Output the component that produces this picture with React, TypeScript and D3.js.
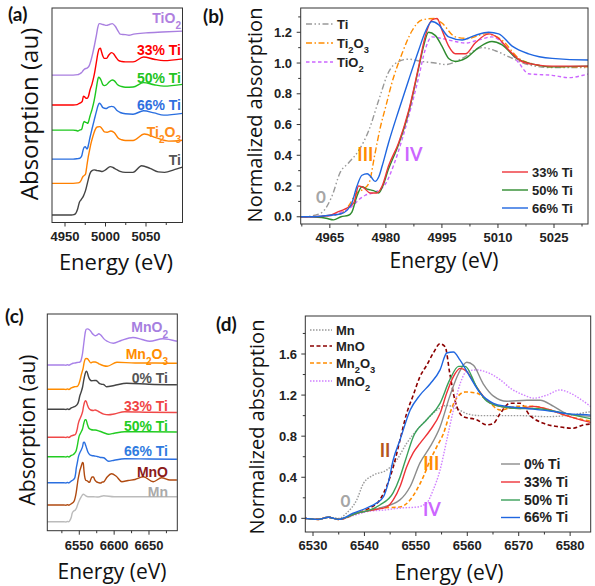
import React from 'react';
import * as d3 from 'd3';

type Pt = [number, number];

// ---- Ti K-edge spectra (energy eV, normalized absorption) ----
const tiMetal: Pt[] = [[4934,0],[4950,0],[4958,0],[4961,0.01],[4963,0.03],[4965.5,0.13],[4967.8,0.29],[4970,0.35],[4972.7,0.43],[4975.4,0.56],[4978.1,0.76],[4980.7,0.94],[4983.4,1.01],[4986,1.025],[4989.7,1.01],[4993.2,1.0],[4996,0.99],[5000.4,1.03],[5005.7,1.1],[5009.3,1.08],[5013,1.04],[5018,0.99],[5024.5,0.97],[5034,0.97],[5044.6,1.12],[5055,1.06],[5065,0.98],[5073,0.97],[5085,1.03],[5095,1.09]];
const ti2o3: Pt[] = [[4934,0],[4950,0],[4960,0],[4966,0.01],[4968,0.02],[4970,0.07],[4972,0.15],[4974,0.18],[4975.5,0.22],[4977,0.4],[4978.5,0.58],[4980,0.72],[4981.6,0.87],[4984.3,1.06],[4987,1.21],[4989.6,1.28],[4993,1.29],[4995,1.26],[4998.6,1.17],[5002,1.16],[5006.6,1.19],[5011,1.15],[5015.6,1.03],[5020,0.99],[5024.5,0.975],[5034,0.975],[5048,1.12],[5062,1.04],[5078,0.96],[5095,0.98]];
const tio2: Pt[] = [[4934,0],[4950,0],[4960,0],[4966,0.01],[4968,0.03],[4970,0.05],[4971.5,0.08],[4972.7,0.11],[4974.5,0.14],[4977.1,0.16],[4979.8,0.21],[4982,0.33],[4984.3,0.5],[4986.5,0.69],[4988.8,0.91],[4990.5,1.085],[4992.3,1.17],[4995,1.16],[4998.6,1.14],[5001.3,1.13],[5004.8,1.15],[5008.4,1.17],[5012,1.11],[5015.6,1.0],[5018.2,0.93],[5024.5,0.92],[5029,0.905],[5034.6,0.93],[5050,0.96],[5070,0.98],[5095,1.0]];
const ti33: Pt[] = [[4934,0],[4950,0],[4960,0],[4965,0.01],[4967,0.03],[4969,0.05],[4971.4,0.09],[4972.7,0.2],[4974,0.19],[4975.8,0.155],[4977.6,0.155],[4979,0.2],[4980.7,0.33],[4983.4,0.48],[4986.1,0.69],[4988.8,0.98],[4990.5,1.17],[4992.3,1.28],[4993.7,1.29],[4995,1.215],[4996.8,1.11],[4998.6,1.06],[5001.3,1.06],[5003.9,1.13],[5007.5,1.19],[5010.2,1.16],[5012.9,1.085],[5016.4,1.01],[5020,0.99],[5024.5,0.98],[5034,0.98],[5047,1.09],[5060,1.04],[5072,1.01],[5095,1.05]];
const ti50: Pt[] = [[4934,0],[4950,0],[4960,0],[4964,-0.01],[4966,-0.02],[4968,0],[4970,0.01],[4970.9,0.03],[4972.2,0.13],[4973.6,0.195],[4975,0.18],[4976.7,0.17],[4978.1,0.155],[4979,0.19],[4980.7,0.31],[4983.4,0.47],[4986.1,0.68],[4988.8,0.97],[4990,1.1],[4991.4,1.2],[4993.2,1.18],[4995,1.11],[4996.8,1.03],[4998.6,1.01],[5001.3,1.03],[5004.8,1.1],[5008.4,1.14],[5011,1.12],[5015,1.03],[5020,0.99],[5024.5,0.975],[5034,0.98],[5047,1.08],[5060,1.03],[5072,1.0],[5095,1.04]];
const ti66: Pt[] = [[4934,0],[4950,0],[4960,0],[4965,0.01],[4968,0.02],[4969.5,0.04],[4970.9,0.09],[4972.2,0.195],[4973.6,0.27],[4975,0.28],[4976,0.26],[4977.1,0.23],[4978.1,0.26],[4979,0.33],[4980.7,0.48],[4983.4,0.69],[4986.1,0.89],[4988.8,1.085],[4990.5,1.2],[4992.3,1.27],[4994.1,1.25],[4996.8,1.17],[5000.4,1.15],[5003.9,1.18],[5007.5,1.2],[5010.2,1.19],[5013.8,1.11],[5018.2,1.06],[5024.5,1.03],[5034,1.02],[5047,1.1],[5060,1.05],[5072,1.0],[5095,1.04]];

// ---- Mn K-edge spectra ----
const mnMetal: Pt[] = [[6504,0],[6520,0],[6528,0],[6531,-0.01],[6533,0.01],[6535,0],[6536.5,0.05],[6538.5,0.18],[6539.8,0.34],[6541.7,0.42],[6544.3,0.47],[6546.3,0.57],[6548.2,0.73],[6550.2,0.86],[6552.1,0.96],[6554.1,1.055],[6556,1.1],[6557.9,1.07],[6559.9,1.02],[6562.5,1.0],[6566.4,1.0],[6570.3,1.0],[6575.5,0.99],[6579.3,1.0],[6585,1.04],[6600,1.0],[6630,1.0],[6660,1.0],[6690,1.0]];
const mno: Pt[] = [[6504,0],[6520,0],[6528,0],[6531,-0.01],[6533,0.01],[6535,-0.01],[6538.5,0.05],[6541,0.1],[6543,0.18],[6544.3,0.31],[6545.6,0.5],[6546.9,0.76],[6548.2,1.02],[6549.5,1.2],[6550.8,1.38],[6552.1,1.49],[6553.4,1.61],[6554.7,1.7],[6555.7,1.67],[6556.6,1.41],[6557.6,1.15],[6559.2,0.99],[6561.8,0.96],[6563.8,0.91],[6565.1,0.925],[6566.4,1.02],[6568.3,1.12],[6570.3,1.12],[6572.2,1.0],[6574.8,0.925],[6578,0.89],[6580.6,0.877],[6582.6,0.91],[6585,0.925],[6590,1.12],[6596.5,1.25],[6603,1.15],[6611,0.93],[6620,0.98],[6630,1.02],[6642,1.13],[6656,0.93],[6668,1.09],[6680,1.0],[6690,1.0]];
const mn2o3: Pt[] = [[6504,0],[6520,0],[6528,0],[6531,-0.01],[6533,0.01],[6535,-0.01],[6538.5,0.05],[6543,0.1],[6546.9,0.11],[6548.9,0.18],[6550.2,0.28],[6551.5,0.41],[6552.8,0.57],[6554.1,0.7],[6555.4,0.83],[6556.6,1.02],[6557.9,1.17],[6559.6,1.23],[6561.8,1.22],[6563.8,1.15],[6566.4,1.055],[6569.6,1.09],[6572.9,1.09],[6576.1,1.055],[6579.3,1.0],[6585,0.94],[6590,0.92],[6604,1.08],[6630,1.05],[6660,1.05],[6690,1.04]];
const mno2: Pt[] = [[6504,0],[6520,0],[6528,0],[6531,-0.01],[6533,0.01],[6535,-0.01],[6538,0.03],[6541,0.07],[6543.7,0.08],[6546.9,0.1],[6550.2,0.11],[6552.1,0.15],[6553.4,0.28],[6554.7,0.47],[6556,0.76],[6557.3,1.055],[6558.6,1.31],[6559.9,1.43],[6561.8,1.445],[6564.4,1.41],[6566.4,1.35],[6568.3,1.27],[6571,1.2],[6572.9,1.17],[6575.5,1.2],[6578,1.25],[6580,1.22],[6582.6,1.14],[6585,1.055],[6590,0.95],[6599,0.87],[6610,0.98],[6627,1.1],[6640,1.02],[6651,0.95],[6670,1.05],[6690,0.95]];
const mn0: Pt[] = [[6504,0],[6520,0],[6528,0],[6531,-0.01],[6533,0.01],[6535,-0.01],[6538.5,0.05],[6543,0.1],[6546.9,0.18],[6548.9,0.31],[6550.8,0.54],[6552.8,0.7],[6554.7,0.89],[6556.6,1.19],[6558.3,1.41],[6559.9,1.52],[6561.2,1.49],[6563.1,1.31],[6565.1,1.19],[6567.7,1.14],[6571.6,1.15],[6574.2,1.15],[6576.8,1.09],[6579.3,1.02],[6581.9,1.0],[6585,0.99],[6589,0.9],[6600,0.95],[6618,1.04],[6650,1.0],[6690,0.98]];
const mn33: Pt[] = [[6504,0],[6520,0],[6528,0],[6531,-0.01],[6533,0.01],[6535,-0.01],[6538.5,0.05],[6541.5,0.08],[6544.3,0.11],[6545.6,0.18],[6547,0.32],[6548.2,0.5],[6549.5,0.64],[6550.8,0.73],[6552.8,0.86],[6554.7,1.02],[6556,1.22],[6557.3,1.38],[6558.6,1.46],[6559.9,1.43],[6561.8,1.28],[6563.8,1.15],[6566.4,1.09],[6570.3,1.07],[6572.9,1.09],[6576.1,1.055],[6579.3,1.0],[6585,0.925],[6592,0.9],[6600,0.93],[6615,1.02],[6650,1.0],[6690,0.99]];
const mn50: Pt[] = [[6504,0],[6520,0],[6528,0],[6531,-0.01],[6533,0.01],[6535,-0.01],[6538.5,0.05],[6541,0.08],[6543,0.13],[6545.6,0.25],[6546.9,0.4],[6548,0.57],[6549.5,0.795],[6552.1,0.96],[6554.7,1.12],[6556.6,1.35],[6558.3,1.48],[6559.6,1.48],[6561.8,1.28],[6563.8,1.14],[6566.4,1.09],[6570.3,1.07],[6572.9,1.07],[6579.3,1.02],[6585,0.96],[6592,0.9],[6600,0.94],[6615,1.0],[6650,1.0],[6690,0.99]];
const mn66: Pt[] = [[6504,0],[6520,0],[6528,0],[6531,-0.01],[6533,0.01],[6535,-0.01],[6537.8,0.05],[6540.4,0.1],[6542.4,0.15],[6543.7,0.21],[6544.7,0.36],[6545.6,0.57],[6546.9,0.76],[6548.9,1.055],[6550.8,1.2],[6552.8,1.31],[6554.7,1.445],[6556,1.61],[6557.3,1.62],[6558.6,1.54],[6560.5,1.38],[6562.5,1.22],[6565.1,1.12],[6567.7,1.09],[6571.6,1.07],[6576.8,1.04],[6579.3,1.02],[6585,1.0],[6592,0.86],[6600,0.9],[6615,0.96],[6650,0.95],[6690,0.94]];

// stacked panels: order bottom -> top and vertical offsets
const tiStackNames = ['Ti', 'Ti2O3', '66% Ti', '50% Ti', '33% Ti', 'TiO2'];
const tiStackOffsets = [0, 0.72, 1.27, 1.93, 2.5, 3.18];
const mnStackNames = ['Mn', 'MnO', '66% Ti', '50% Ti', '33% Ti', '0% Ti', 'Mn2O3', 'MnO2'];
const mnStackOffsets = [0, 0.67, 1.56, 2.6, 3.38, 4.5, 5.3, 6.27];

// ticks
const aTicks = [4950, 5000, 5050];
const aMinor = [4975, 5025, 5075];
const bTicksX = [4965, 4980, 4995, 5010, 5025];
const bMinorX = [4957.5, 4972.5, 4987.5, 5002.5, 5017.5, 5032.5];
const bTicksY = [0, 0.2, 0.4, 0.6, 0.8, 1.0, 1.2];
const bMinorY = [0.1, 0.3, 0.5, 0.7, 0.9, 1.1, 1.3];
const cTicks = [6550, 6600, 6650];
const cMinor = [6525, 6575, 6625, 6675];
const dTicksX = [6530, 6540, 6550, 6560, 6570, 6580];
const dMinorX = [6535, 6545, 6555, 6565, 6575];
const dTicksY = [0, 0.4, 0.8, 1.2, 1.6];
const dMinorY = [0.2, 0.6, 1.0, 1.4, 1.8];

const tiData: Record<string, Pt[]> = { 'Ti': tiMetal, 'Ti2O3': ti2o3, 'TiO2': tio2, '33% Ti': ti33, '50% Ti': ti50, '66% Ti': ti66 };
const mnData: Record<string, Pt[]> = { 'Mn': mnMetal, 'MnO': mno, 'Mn2O3': mn2o3, 'MnO2': mno2, '0% Ti': mn0, '33% Ti': mn33, '50% Ti': mn50, '66% Ti': mn66 };

const TICK_FONT = '"Liberation Sans", Arial, sans-serif';
const TITLE_FONT = '"Open Sans", "Noto Sans", sans-serif';
const LABEL_FONT = 'Lato, "Open Sans", sans-serif';
const AXIS = '#333';

function chem(text: string) {
  const out: React.ReactNode[] = [];
  let buf = '';
  for (let i = 0; i < text.length; i++) {
    const c = text[i];
    if (/\d/.test(c) && i > 0 && /[A-Za-z]/.test(text[i - 1])) {
      if (buf) out.push(<tspan key={'t' + i}>{buf}</tspan>);
      buf = '';
      out.push(<tspan key={'s' + i} baselineShift="sub" fontSize="0.72em">{c}</tspan>);
    } else buf += c;
  }
  if (buf) out.push(<tspan key="end">{buf}</tspan>);
  return out;
}

type Box = { l: number; r: number; t: number; b: number };

function Frame({ box }: { box: Box }) {
  return <rect x={box.l} y={box.t} width={box.r - box.l} height={box.b - box.t} fill="none" stroke={AXIS} strokeWidth={1} />;
}

function XTicks({ x, box, major, minor, labelY }: any) {
  return (
    <g>
      {major.map((v: number) => (
        <g key={'M' + v}>
          <line x1={x(v)} x2={x(v)} y1={box.b} y2={box.b + 4} stroke={AXIS} />
          <text x={x(v)} y={labelY} textAnchor="middle" fontFamily={TICK_FONT} fontWeight="bold" fontSize={13} fill="#222">{v}</text>
        </g>
      ))}
      {minor.map((v: number) => (
        <line key={'m' + v} x1={x(v)} x2={x(v)} y1={box.b} y2={box.b + 2.5} stroke={AXIS} />
      ))}
    </g>
  );
}

function YTicks({ y, box, major, minor, labelX }: any) {
  return (
    <g>
      {major.map((v: number) => (
        <g key={'M' + v}>
          <line x1={box.l - 4} x2={box.l} y1={y(v)} y2={y(v)} stroke={AXIS} />
          <text x={labelX} y={y(v) + 4.5} textAnchor="end" fontFamily={TICK_FONT} fontWeight="bold" fontSize={13} fill="#222">{v.toFixed(1)}</text>
        </g>
      ))}
      {minor.map((v: number) => (
        <line key={'m' + v} x1={box.l - 2.5} x2={box.l} y1={y(v)} y2={y(v)} stroke={AXIS} />
      ))}
    </g>
  );
}

type Style = { color: string; dash?: string; width?: number };

const App: React.FC = () => {
  // ---------- panel (a) ----------
  const aBox: Box = { l: 52, r: 182.5, t: 8, b: 222.5 };
  const ax = d3.scaleLinear().domain([4933.95, 5095.06]).range([aBox.l, aBox.r]);
  const ay = d3.scaleLinear().domain([-0.17, 4.705]).range([aBox.b, aBox.t]);
  const aStyle: Record<string, Style> = {
    'Ti': { color: '#444' }, 'Ti2O3': { color: '#ff8000' }, '66% Ti': { color: '#2a6fe0' },
    '50% Ti': { color: '#1ec81e' }, '33% Ti': { color: '#ff0000' }, 'TiO2': { color: '#a97fe0' },
  };
  const aLabelColor: Record<string, string> = {
    'Ti': '#555', 'Ti2O3': '#ff8c1a', '66% Ti': '#2f6fe0', '50% Ti': '#22c422', '33% Ti': '#ff0000', 'TiO2': '#b07fe0',
  };
  const aLabelY = [165, 136.5, 110, 83, 55, 23];

  // ---------- panel (b) ----------
  const bBox: Box = { l: 300.7, r: 588, t: 8, b: 224 };
  const bx = d3.scaleLinear().domain([4957.2, 5034.1]).range([bBox.l, bBox.r]);
  const by = d3.scaleLinear().domain([-0.047, 1.358]).range([bBox.b, bBox.t]);
  const bRefs = ['Ti', 'Ti2O3', 'TiO2'];
  const bSamples = ['33% Ti', '50% Ti', '66% Ti'];
  const bStyle: Record<string, Style> = {
    'Ti': { color: '#999', dash: '6,2.5,1.5,2.5,1.5,2.5' },
    'Ti2O3': { color: '#ff8c00', dash: '6,2.5,1.5,2.5' },
    'TiO2': { color: '#cc66ff', dash: '3.5,2.5' },
    '33% Ti': { color: '#ee3338' }, '50% Ti': { color: '#2e8b2e' }, '66% Ti': { color: '#1f66e0' },
  };

  // ---------- panel (c) ----------
  const cBox: Box = { l: 47.3, r: 177.3, t: 314, b: 530.7 };
  const cx = d3.scaleLinear().domain([6504.1, 6690.6]).range([cBox.l, cBox.r]);
  const cy = d3.scaleLinear().domain([-0.36, 8.31]).range([cBox.b, cBox.t]);
  const cStyle: Record<string, Style> = {
    'Mn': { color: '#bbb' }, 'MnO': { color: '#b04a10' }, '66% Ti': { color: '#2a6fe0' }, '50% Ti': { color: '#22cc22' },
    '33% Ti': { color: '#f04848' }, '0% Ti': { color: '#444' }, 'Mn2O3': { color: '#ff8c00' }, 'MnO2': { color: '#a880e8' },
  };
  const cLabelColor: Record<string, string> = {
    'Mn': '#aaa', 'MnO': '#8b1a1a', '66% Ti': '#2f7be0', '50% Ti': '#22cc22', '33% Ti': '#f04545', '0% Ti': '#555',
    'Mn2O3': '#ff8c00', 'MnO2': '#a67fe0',
  };
  const cLabelY = [496.7, 477.3, 455.7, 430.7, 410.7, 383.3, 359, 332];

  // ---------- panel (d) ----------
  const dBox: Box = { l: 305.3, r: 590.7, t: 316, b: 532 };
  const dx = d3.scaleLinear().domain([6528.5, 6584.0]).range([dBox.l, dBox.r]);
  const dy = d3.scaleLinear().domain([-0.133, 1.97]).range([dBox.b, dBox.t]);
  const dRefs = ['Mn', 'MnO', 'Mn2O3', 'MnO2'];
  const dSamples = ['0% Ti', '33% Ti', '50% Ti', '66% Ti'];
  const dStyle: Record<string, Style> = {
    'Mn': { color: '#999', dash: '1.5,1.5' }, 'MnO': { color: '#8b0000', dash: '4,2.5', width: 1.6 },
    'Mn2O3': { color: '#ff8c00', dash: '4,2.5', width: 1.6 }, 'MnO2': { color: '#d080ff', dash: '1.5,1.5' },
    '0% Ti': { color: '#8c8c8c' }, '33% Ti': { color: '#ee3338' }, '50% Ti': { color: '#3aa05a' }, '66% Ti': { color: '#1f66e0' },
  };

  const mkLine = (x: any, y: any, off = 0) =>
    d3.line<Pt>().x(d => x(d[0])).y(d => y(d[1] + off)).curve(d3.curveMonotoneX);

  const path = (key: string, data: Pt[], gen: any, s: Style, clip?: string) => (
    <path key={key} d={gen(data) || ''} fill="none" stroke={s.color} strokeWidth={s.width ?? 1.4}
      strokeDasharray={s.dash} strokeLinejoin="round" clipPath={clip} />
  );

  const title = (x: number, y: number, text: string, size: number, rotate = false) => (
    <text x={x} y={y} textAnchor="middle" fontFamily={TITLE_FONT} fontWeight={400} fontSize={size} fill="#111"
      transform={rotate ? `rotate(-90 ${x} ${y})` : undefined}>{text}</text>
  );

  const annot = (x: number, y: number, text: string, color: string, size = 18) => (
    <text x={x} y={y} textAnchor="middle" fontFamily={LABEL_FONT} fontWeight="bold" fontSize={size} fill={color}>{text}</text>
  );

  const legendRow = (x1: number, x2: number, yy: number, name: string, s: Style, size = 13) => (
    <g key={'lg' + name + yy}>
      <line x1={x1} x2={x2} y1={yy} y2={yy} stroke={s.color} strokeWidth={s.width ?? 1.4} strokeDasharray={s.dash} />
      <text x={x2 + 4} y={yy + 4.5} fontFamily={TICK_FONT} fontWeight="bold" fontSize={size} fill="#222">{chem(name)}</text>
    </g>
  );

  const bLegendTopY = [24, 43, 62];
  const bLegendBotY = [172, 190, 208];
  const dLegendTopY = [330, 346, 363, 381];
  const dLegendBotY = [464, 482, 500, 517.5];

  return (
    <svg width={595} height={586} style={{ position: 'absolute', left: 0, top: 0, background: '#fff' }}>
      <defs>
        <clipPath id="clipB"><rect x={bBox.l} y={bBox.t} width={bBox.r - bBox.l} height={bBox.b - bBox.t} /></clipPath>
        <clipPath id="clipD"><rect x={dBox.l} y={dBox.t} width={dBox.r - dBox.l} height={dBox.b - dBox.t} /></clipPath>
      </defs>
      <rect width={595} height={586} fill="#fff" />

      {/* (a) */}
      <g>
        {tiStackNames.map((n, i) => path('a' + n, tiData[n], mkLine(ax, ay, tiStackOffsets[i]), aStyle[n]))}
        <Frame box={aBox} />
        <XTicks x={ax} box={aBox} major={aTicks} minor={aMinor} labelY={241} />
        {tiStackNames.map((n, i) => (
          <text key={'al' + n} x={181} y={aLabelY[i]} textAnchor="end" fontFamily={TICK_FONT} fontWeight="bold"
            fontSize={14} fill={aLabelColor[n]}>{chem(n)}</text>
        ))}
        {title(116, 270, 'Energy (eV)', 22)}
        {title(38, 114, 'Absorption (au)', 24, true)}
        <text x={8} y={21} fontFamily={LABEL_FONT} fontWeight="bold" fontSize={19} fill="#111">(a)</text>
      </g>

      {/* (b) */}
      <g>
        {bRefs.map(n => path('b' + n, tiData[n], mkLine(bx, by), bStyle[n], 'url(#clipB)'))}
        {['50% Ti', '33% Ti', '66% Ti'].map(n => path('b' + n, tiData[n], mkLine(bx, by), bStyle[n], 'url(#clipB)'))}
        <Frame box={bBox} />
        <XTicks x={bx} box={bBox} major={bTicksX} minor={bMinorX} labelY={242} />
        <YTicks y={by} box={bBox} major={bTicksY} minor={bMinorY} labelX={292} />
        {bRefs.map((n, i) => legendRow(306, 333, bLegendTopY[i], n, bStyle[n]))}
        {bSamples.map((n, i) => legendRow(502, 528, bLegendBotY[i], n, bStyle[n]))}
        {annot(bx(4962.6), by(0.09), '0', '#a6a6a6', 17)}
        {annot(bx(4974.5), by(0.36), 'III', '#ff8c00')}
        {annot(bx(4987.4), by(0.36), 'IV', '#cc66ff')}
        {title(444, 268, 'Energy (eV)', 21)}
        {title(262, 115, 'Normalized absorption', 20, true)}
        <text x={203} y={23} fontFamily={LABEL_FONT} fontWeight="bold" fontSize={19} fill="#111">(b)</text>
      </g>

      {/* (c) */}
      <g>
        {mnStackNames.map((n, i) => path('c' + n, mnData[n], mkLine(cx, cy, mnStackOffsets[i]), cStyle[n]))}
        <Frame box={cBox} />
        <XTicks x={cx} box={cBox} major={cTicks} minor={cMinor} labelY={550} />
        {mnStackNames.map((n, i) => (
          <text key={'cl' + n} x={168} y={cLabelY[i]} textAnchor="end" fontFamily={TICK_FONT} fontWeight="bold"
            fontSize={14} fill={cLabelColor[n]}>{chem(n)}</text>
        ))}
        {title(112, 579, 'Energy (eV)', 21)}
        {title(35, 430, 'Absorption (au)', 21, true)}
        <text x={5} y={323} fontFamily={LABEL_FONT} fontWeight="bold" fontSize={19} fill="#111">(c)</text>
      </g>

      {/* (d) */}
      <g>
        {dRefs.map(n => path('d' + n, mnData[n], mkLine(dx, dy), dStyle[n], 'url(#clipD)'))}
        {dSamples.map(n => path('d' + n, mnData[n], mkLine(dx, dy), dStyle[n], 'url(#clipD)'))}
        <Frame box={dBox} />
        <XTicks x={dx} box={dBox} major={dTicksX} minor={dMinorX} labelY={550} />
        <YTicks y={dy} box={dBox} major={dTicksY} minor={dMinorY} labelX={297} />
        {dRefs.map((n, i) => legendRow(310, 332, dLegendTopY[i], n, dStyle[n]))}
        {dSamples.map((n, i) => legendRow(501, 520, dLegendBotY[i], n, dStyle[n], 14))}
        {annot(dx(6536.3), dy(0.11), '0', '#a6a6a6', 17)}
        {annot(dx(6544), dy(0.6), 'II', '#b5561d')}
        {annot(dx(6553), dy(0.47), 'III', '#ff8c00')}
        {annot(dx(6553.1), dy(0.02), 'IV', '#cc66ff')}
        {title(449, 580, 'Energy (eV)', 21)}
        {title(264, 427, 'Normalized absorption', 20, true)}
        <text x={216} y={331} fontFamily={LABEL_FONT} fontWeight="bold" fontSize={19} fill="#111">(d)</text>
      </g>
    </svg>
  );
};

export default App;
